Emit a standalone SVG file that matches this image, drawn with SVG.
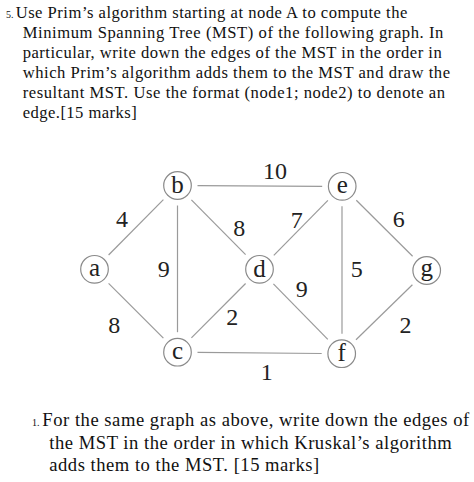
<svg xmlns="http://www.w3.org/2000/svg" width="474" height="482" viewBox="0 0 474 482">
<style>
.p{font-family:'Times New Roman','Liberation Serif',Tinos,'Nimbus Roman',Times,serif;fill:#111}
.t{font-size:16.6px}
.b{font-size:18.6px}
.n{font-size:10px}
.nd circle{fill:#fff;stroke:#8a8a8a;stroke-width:1.2}
.nd text{font-family:'Times New Roman','Liberation Serif',Tinos,'Nimbus Roman',Times,serif;font-size:25px;fill:#222;text-anchor:middle}
.e line{stroke:#9a9a9a;stroke-width:1.2}
.w{font-family:'Times New Roman','Liberation Serif',Tinos,'Nimbus Roman',Times,serif;font-size:24px;fill:#222;text-anchor:middle}
</style>
<rect width="474" height="482" fill="#fff"/>
<g id="question5">
<text class="p n" x="6" y="18.3">5.</text>
<text class="p t" x="15.7" y="18.3" textLength="391.6" lengthAdjust="spacing">Use Prim’s algorithm starting at node A to compute the</text>
<text class="p t" x="22.7" y="38.3" textLength="420.6" lengthAdjust="spacing">Minimum Spanning Tree (MST) of the following graph. In</text>
<text class="p t" x="22.7" y="58.3" textLength="419" lengthAdjust="spacing">particular, write down the edges of the MST in the order in</text>
<text class="p t" x="22.7" y="78.3" textLength="427.3" lengthAdjust="spacing">which Prim’s algorithm adds them to the MST and draw the</text>
<text class="p t" x="22.7" y="98.3" textLength="422.3" lengthAdjust="spacing">resultant MST. Use the format (node1; node2) to denote an</text>
<text class="p t" x="22.7" y="118.3" textLength="114" lengthAdjust="spacing">edge.[15 marks]</text>
</g>
<g id="edges" class="e">
<line x1="108.6" y1="255" x2="163.4" y2="199.6"/>
<line x1="108.6" y1="283.3" x2="163.4" y2="338.2"/>
<line x1="177.5" y1="205.5" x2="177.5" y2="332.2"/>
<line x1="191.4" y1="199.9" x2="245.6" y2="254.6"/>
<line x1="197.5" y1="185.6" x2="322.2" y2="186.3"/>
<line x1="191.4" y1="337.8" x2="245.6" y2="283.5"/>
<line x1="197.5" y1="352.4" x2="321.7" y2="353.5"/>
<line x1="273.8" y1="255.3" x2="327.9" y2="200.3"/>
<line x1="273.4" y1="283.9" x2="327.8" y2="339.3"/>
<line x1="342" y1="206.3" x2="342" y2="333.7"/>
<line x1="356.3" y1="200.3" x2="412.6" y2="256.2"/>
<line x1="356" y1="339.7" x2="412.4" y2="284.8"/>
</g>
<g id="edge-labels">
<text class="w" x="275" y="179">10</text>
<text class="w" x="122" y="227.3">4</text>
<text class="w" x="239.2" y="236">8</text>
<text class="w" x="296.7" y="228.3">7</text>
<text class="w" x="398.8" y="227.3">6</text>
<text class="w" x="163.7" y="276.7">9</text>
<text class="w" x="356.7" y="276.7">5</text>
<text class="w" x="301.7" y="296.7">9</text>
<text class="w" x="114.2" y="332.7">8</text>
<text class="w" x="232.2" y="325">2</text>
<text class="w" x="405.5" y="332.7">2</text>
<text class="w" x="266.7" y="380">1</text>
</g>
<g id="node-a" class="nd"><circle cx="94.5" cy="269.3" r="13.8"/><text x="94.5" y="276">a</text></g>
<g id="node-b" class="nd"><circle cx="177.5" cy="185.5" r="13.8"/><text x="177.5" y="193">b</text></g>
<g id="node-c" class="nd"><circle cx="177.5" cy="352.2" r="13.8"/><text x="177.5" y="359">c</text></g>
<g id="node-d" class="nd"><circle cx="259.5" cy="269.3" r="13.8"/><text x="259.5" y="276.5">d</text></g>
<g id="node-e" class="nd"><circle cx="342.2" cy="186.3" r="13.8"/><text x="342.2" y="193">e</text></g>
<g id="node-f" class="nd"><circle cx="341.7" cy="353.7" r="13.8"/><text x="341.7" y="361">f</text></g>
<g id="node-g" class="nd"><circle cx="426.7" cy="270.5" r="13.8"/><text x="426.7" y="276">g</text></g>
<g id="question1">
<text class="p n" x="32" y="425.7">1.</text>
<text class="p b" x="42.3" y="425.7" textLength="427" lengthAdjust="spacing">For the same graph as above, write down the edges of</text>
<text class="p b" x="49.3" y="448.5" textLength="402.4" lengthAdjust="spacing">the MST in the order in which Kruskal’s algorithm</text>
<text class="p b" x="49.3" y="471.3" textLength="270" lengthAdjust="spacing">adds them to the MST. [15 marks]</text>
</g>
</svg>
